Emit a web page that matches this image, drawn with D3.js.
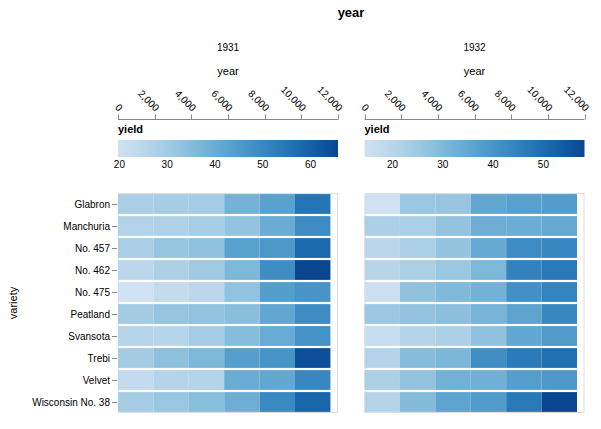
<!DOCTYPE html>
<html>
<head>
<meta charset="utf-8">
<script src="https://cdn.jsdelivr.net/npm/d3@7"></script>
<style>
  html, body { margin: 0; padding: 0; background: #fff; }
  svg { display: block; font-family: "Liberation Sans", Arial, sans-serif; }
</style>
</head>
<body>
<svg id="chart" width="601" height="429"></svg>
<script>
// ---- data (barley yields) ----
const varieties = ["Glabron", "Manchuria", "No. 457", "No. 462", "No. 475", "Peatland", "Svansota", "Trebi", "Velvet", "Wisconsin No. 38"];
const sites = ["University Farm", "Waseca", "Morris", "Crookston", "Grand Rapids", "Duluth"];
const years = [1931, 1932];
// yields per variety, in site order above
const yield1931 = {
  "Manchuria": [27.00, 48.87, 27.43, 39.93, 32.97, 28.97],
  "Glabron": [43.07, 55.20, 28.77, 38.13, 29.13, 29.67],
  "Svansota": [35.13, 47.33, 25.77, 40.47, 29.67, 25.70],
  "Velvet": [39.90, 50.23, 26.13, 41.33, 23.03, 26.30],
  "Trebi": [36.57, 63.83, 43.77, 46.93, 29.77, 33.93],
  "No. 457": [43.27, 58.10, 28.70, 45.67, 32.17, 33.60],
  "No. 462": [36.60, 65.77, 30.37, 48.57, 24.93, 28.10],
  "Peatland": [32.77, 48.57, 29.87, 41.60, 34.70, 32.00],
  "No. 475": [24.67, 46.77, 22.60, 44.10, 19.70, 33.07],
  "Wisconsin No. 38": [39.30, 58.80, 29.47, 49.87, 34.47, 31.60]
};
const yield1932 = {
  "Manchuria": [26.90, 33.47, 34.37, 32.97, 22.13, 22.57],
  "Glabron": [36.80, 37.73, 35.13, 26.17, 14.43, 25.87],
  "Svansota": [27.43, 38.50, 35.03, 20.63, 16.63, 22.23],
  "Velvet": [26.87, 37.40, 38.77, 32.67, 32.23, 22.47],
  "Trebi": [29.07, 49.23, 46.63, 41.83, 20.63, 30.60],
  "No. 457": [26.43, 42.20, 43.53, 34.33, 19.47, 22.70],
  "No. 462": [25.57, 44.70, 47.00, 30.53, 19.90, 22.50],
  "Peatland": [28.07, 36.03, 43.20, 25.23, 26.77, 31.37],
  "No. 475": [30.00, 41.27, 44.23, 32.13, 15.23, 27.37],
  "Wisconsin No. 38": [38.00, 58.17, 47.17, 35.90, 20.67, 29.33]
};
const yieldByYear = {1931: yield1931, 1932: yield1932};
const bluesHex = ["#cfe1f2","#bed8ec","#a8cee5","#8fc1de","#74b2d7","#5ba3cf","#4592c6","#3181bd","#206fb2","#125ca4","#0a4690"];

// ---- layout ----
const svg = d3.select("#chart");
const facetLeft = {1931: 118, 1932: 364.5};
const plotW = 220, plotTop = 193, plotH = 220;
const axisY = 119.5;

const blues = d3.piecewise(d3.interpolateRgb, bluesHex);

// top title
svg.append("text").attr("x", 351).attr("y", 16.5).attr("text-anchor", "middle")
  .attr("font-size", 13).attr("font-weight", "bold").attr("fill", "#000").text("year");

const y = d3.scaleBand().domain(varieties).range([plotTop, plotTop + plotH])
  .paddingInner(0.1).paddingOuter(0.05);

// shared x scale
const sums = [];
years.forEach(yr => varieties.forEach(v => sums.push(yieldByYear[yr][v].length * yr)));
const x0 = d3.scaleLinear().domain([0, d3.max(sums)]).nice().range([0, plotW]);

years.forEach(yr => {
  const left = facetLeft[yr];
  const g = svg.append("g");
  const x = x0.copy().range([left, left + plotW]);
  const allY = varieties.flatMap(v => yieldByYear[yr][v]);
  const color = d3.scaleSequential(blues).domain(d3.extent(allY));

  // facet header
  g.append("text").attr("x", left + plotW / 2).attr("y", 51).attr("text-anchor", "middle")
    .attr("font-size", 10).attr("fill", "#000").text(yr);
  // axis title
  g.append("text").attr("x", left + plotW / 2).attr("y", 74.5).attr("text-anchor", "middle")
    .attr("font-size", 11).attr("fill", "#000").text("year");

  // x axis (top)
  const ticks = x.ticks(5);
  g.append("line").attr("x1", left).attr("x2", left + plotW).attr("y1", axisY).attr("y2", axisY)
    .attr("stroke", "#888").attr("stroke-width", 1);
  ticks.forEach(t => {
    const tx = Math.round(x(t)) + 0.5;
    g.append("line").attr("x1", tx).attr("x2", tx).attr("y1", axisY).attr("y2", axisY - 5)
      .attr("stroke", "#888").attr("stroke-width", 1);
    g.append("text").attr("transform", `translate(${x(t) + 0.5},${axisY - 7.5}) rotate(45)`)
      .attr("text-anchor", "end").attr("font-size", 10).attr("fill", "#000")
      .text(d3.format(",")(t));
  });

  // legend
  g.append("text").attr("x", left).attr("y", 133).attr("font-size", 11)
    .attr("font-weight", "bold").attr("fill", "#000").text("yield");
  const gid = "grad" + yr;
  const grad = svg.append("defs").append("linearGradient").attr("id", gid)
    .attr("x1", "0%").attr("x2", "100%").attr("y1", "0%").attr("y2", "0%");
  d3.range(0, 1.0001, 0.05).forEach(p => {
    grad.append("stop").attr("offset", (p * 100) + "%").attr("stop-color", blues(p));
  });
  g.append("rect").attr("x", left).attr("y", 140).attr("width", plotW).attr("height", 17)
    .attr("fill", `url(#${gid})`);
  const lx = d3.scaleLinear().domain(color.domain()).range([left, left + plotW]);
  lx.ticks(5).forEach(t => {
    g.append("text").attr("x", lx(t)).attr("y", 168).attr("text-anchor", "middle")
      .attr("font-size", 10).attr("fill", "#000").text(t);
  });

  // view border
  g.append("rect").attr("x", left + 0.5).attr("y", plotTop + 0.5).attr("width", plotW - 1)
    .attr("height", plotH - 1).attr("fill", "none").attr("stroke", "#ddd");

  // stacked rects, sorted by yield ascending
  varieties.forEach(v => {
    const vals = yieldByYear[yr][v].slice().sort((a, b) => a - b);
    let acc = 0;
    vals.forEach(val => {
      g.append("rect").attr("x", x(acc)).attr("width", x(acc + yr) - x(acc))
        .attr("y", y(v)).attr("height", y.bandwidth()).attr("fill", color(val));
      acc += yr;
    });
  });
});

// y axis (left)
const ya = svg.append("g");
varieties.forEach(v => {
  const cy = y(v) + y.bandwidth() / 2;
  ya.append("line").attr("x1", 112).attr("x2", 117).attr("y1", Math.round(cy) + 0.5).attr("y2", Math.round(cy) + 0.5)
    .attr("stroke", "#888");
  ya.append("text").attr("x", 110).attr("y", cy).attr("dy", "0.35em").attr("text-anchor", "end")
    .attr("font-size", 10).attr("fill", "#000").text(v);
});
ya.append("text").attr("transform", `translate(17,${plotTop + plotH / 2}) rotate(-90)`)
  .attr("text-anchor", "middle").attr("font-size", 11).attr("fill", "#000").text("variety");
</script>
</body>
</html>
